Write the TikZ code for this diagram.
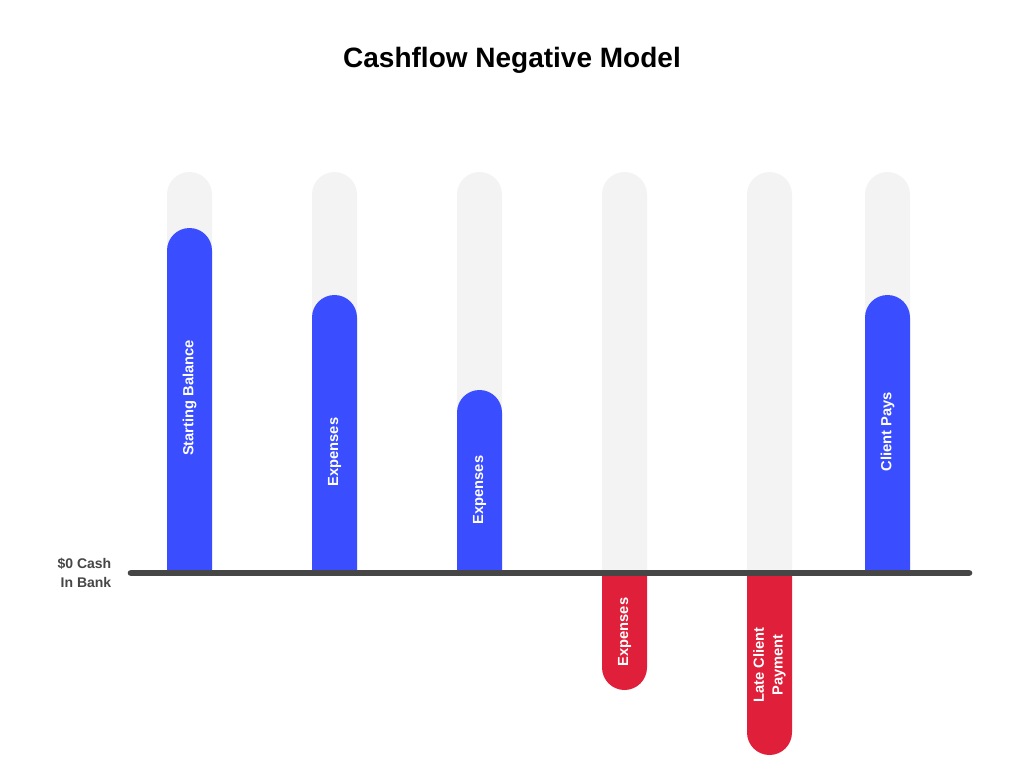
\documentclass[tikz,border=0pt]{standalone}
\usepackage{fontspec}
\setmainfont{Liberation Sans}
\begin{document}
\begin{tikzpicture}[x=0.75pt,y=-0.75pt,
  bglab/.style={font=\bfseries\fontsize{11}{12}\selectfont,text=white,rotate=90,align=center}]
\definecolor{barblue}{HTML}{3A4EFF}
\definecolor{barred}{HTML}{E0203A}
\definecolor{bggray}{HTML}{F3F3F3}
\definecolor{axisgray}{HTML}{464646}
\useasboundingbox (0,0) rectangle (1024,768);
% rounded-top bar: \topbar{x}{ytop}{ybottom}{color}
\newcommand\topbar[4]{\fill[#4] (#1,#3) -- (#1,#2+22.5) arc[start angle=180,end angle=0,x radius=22.5,y radius=-22.5] -- (#1+45,#3) -- cycle;}
\newcommand\botbar[4]{\fill[#4] (#1,#2) -- (#1,#3-22.5) arc[start angle=180,end angle=360,x radius=22.5,y radius=-22.5] -- (#1+45,#2) -- cycle;}
\node[font=\bfseries\fontsize{21}{24}\selectfont] (title) at (512,60) {Cashflow Negative Model};
\foreach \x in {167,312,457,602,747,865} {\topbar{\x}{172}{570}{bggray}}
\topbar{167}{228}{570}{barblue}
\topbar{312}{295}{570}{barblue}
\topbar{457}{390}{570}{barblue}
\topbar{865}{295}{570}{barblue}
\botbar{602}{575}{690}{barred}
\botbar{747}{575}{755}{barred}
\node[bglab] (l1) at (189.5,398) {Starting Balance};
\node[bglab] (l2) at (334.5,452) {Expenses};
\node[bglab] (l3) at (479.5,490) {Expenses};
\node[bglab] (l6) at (887.5,432) {Client Pays};
\node[bglab] (l4) at (624.5,632) {Expenses};
\node[bglab,font=\bfseries\fontsize{11}{14}\selectfont] (l5) at (769.5,665) {Late Client\\Payment};
\coordinate (a1) at (131,573);
\coordinate (a2) at (969,573);
\draw[axisgray,line width=5pt,line cap=round] (a1) -- (a2);
\node[font=\bfseries\fontsize{10.5}{14}\selectfont,text=axisgray,align=right,anchor=east] (zero) at (116,573) {\$0 Cash\\In Bank};
\end{tikzpicture}
\end{document}
